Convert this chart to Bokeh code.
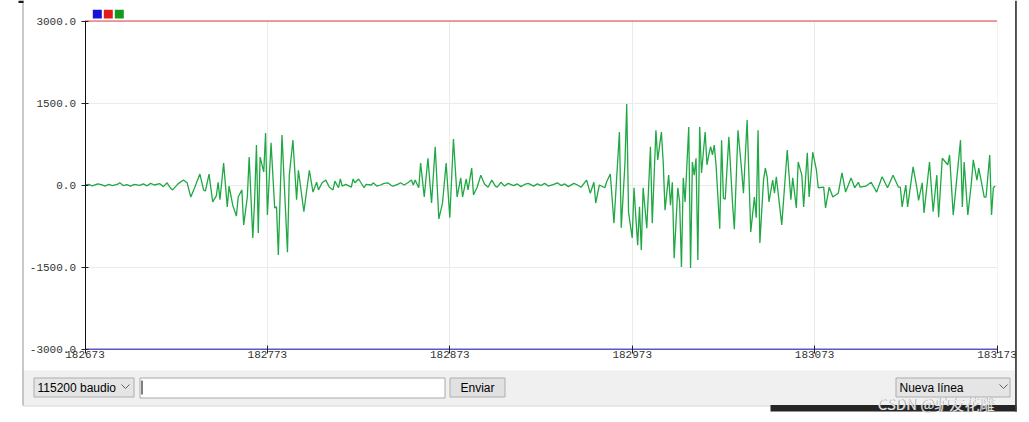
from bokeh.plotting import figure
from bokeh.models import Range1d, FixedTicker, PrintfTickFormatter, LinearAxis, Grid, BoxAnnotation
from bokeh.core.properties import value
from bokeh.embed import file_html
from bokeh.resources import INLINE

# ---------------- data ----------------
x_first = 182673
x_last = 183173
x_ticks = [182673, 182773, 182873, 182973, 183073, 183173]
y_ticks = [-3000, -1500, 0, 1500, 3000]
blue_level = -3000
red_level = 3000

sample_offsets = [
    0, 2, 4, 7, 9, 11, 13, 15, 18, 19, 21, 23,
    25, 27, 30, 32, 34, 36, 38, 41, 43, 45, 47, 48,
    51, 54, 56, 58, 60, 61, 63, 65, 66, 68, 70, 72,
    73, 74, 76, 78, 79, 81, 83, 84, 86, 87, 89, 90,
    92, 93, 94, 95, 96, 98, 99, 100, 102, 104, 105, 106,
    108, 111, 112, 114, 116, 117, 120, 123, 125, 127, 128, 130,
    132, 134, 136, 137, 139, 140, 141, 143, 146, 147, 148, 150,
    153, 154, 157, 158, 160, 162, 164, 166, 168, 169, 172, 173,
    175, 177, 179, 180, 181, 183, 184, 186, 188, 190, 192, 194,
    196, 198, 200, 202, 204, 206, 207, 209, 210, 212, 213, 215,
    217, 219, 221, 223, 225, 226, 228, 230, 232, 235, 237, 239,
    241, 243, 246, 248, 250, 252, 254, 257, 259, 261, 263, 265,
    268, 270, 272, 275, 277, 279, 280, 282, 285, 286, 288, 290,
    293, 294, 296, 297, 298, 300, 301, 302, 303, 304, 305, 306,
    308, 310, 311, 313, 314, 316, 317, 318, 320, 321, 322, 323,
    325, 326, 327, 328, 329, 331, 332, 333, 334, 335, 336, 337,
    338, 340, 341, 342, 343, 344, 345, 346, 348, 349, 350, 351,
    353, 355, 356, 358, 360, 361, 363, 365, 367, 368, 369, 370,
    372, 373, 374, 375, 377, 378, 379, 382, 383, 385, 387, 388,
    390, 391, 393, 394, 396, 397, 399, 401, 402, 405, 406, 408,
    410, 413, 415, 417, 420, 422, 424, 425, 428, 429, 431, 434,
    437, 440, 443, 446, 447, 448, 450, 451, 454, 456, 457, 459,
    460, 463, 465, 467, 468, 470, 473, 474, 476, 480, 481, 482,
    484, 486, 487, 489, 490, 493, 494, 496, 497, 498, 499,
]
signal_values = [
    0, 10, -15, 20, 5, -20, 10, -10, 15, 40, -10, 5,
    -20, 10, -5, 20, -15, 30, 0, 25, -30, 40, -60, -90,
    20, 90, 40, -220, -60, 30, 200, -90, -110, 200, -310, -200,
    50, -270, 400, -400, -20, -370, -570, -220, -90, -730, -220, 510,
    -970, -270, 730, -880, 510, 240, 950, -550, 770, -420, -400, -1280,
    915, -1230, 180, 820, -270, 270, -490, 270, -130, 50, -90, 40,
    90, -40, -90, 70, -50, 110, -20, 10, -40, 110, 40, 110,
    -50, 10, 0, 40, -20, 0, 30, 40, -10, -20, 20, 40,
    0, 40, 90, 0, 90, -50, 400, -220, 490, -330, 700, -620,
    -330, 400, -600, 840, -220, 130, -220, 110, -90, 310, -180, -40,
    180, 20, -40, 90, -20, -40, 50, -20, 30, -10, 20, -30,
    10, 30, -20, 20, -10, 30, -20, 10, 40, -10, 20, -30,
    30, 0, -40, 90, -150, 50, -330, 0, -50, 60, 200, -700,
    970, -780, 370, 1480, -500, -970, -50, -590, -1100, -400, -1190, -50,
    -790, 700, -700, 1000, 460, 970, 420, -460, 180, -370, 50, -1340,
    -50, -310, -1500, 130, -310, 1060, -1520, 420, 180, 490, -1370, 1060,
    220, 970, 370, 550, 700, 550, 730, 350, -800, 820, -240, -260,
    880, -330, -810, 1000, 270, -150, 1190, -860, -220, -600, 1000, -1060,
    90, 310, 150, -310, 90, -150, 150, -730, -270, 640, -270, 130,
    -420, 420, 180, -400, 590, -220, 600, 270, -50, -40, -420, -40,
    -220, -150, 220, -130, 130, -50, 50, -40, -20, 0, 50, -130,
    150, -50, 180, -40, -40, -400, 0, -400, 330, -40, -280, 40,
    -510, 420, -490, 180, -590, 490, 370, 550, -550, 820, -400, 420,
    -550, 50, 460, 90, 310, -220, -220, 550, -550, -50, -20,
]

series_colors = ["#1414d8", "#e01c1c", "#139a1c"]   # legend squares: blue, red, green
baud_label = "115200 baudio"
send_label = "Enviar"
newline_label = "Nueva línea"
watermark = "CSDN @驴友花雕"

# ---------------- layout ----------------
M = 0                      # the page is shown from its top-left corner
W, H = 1029, 422
PX_L, PX_R, PX_T, PX_B = 84.5, 996.5, 20.5, 348.5   # plot area on the page (pixel centres)
y_min, y_max = y_ticks[0], y_ticks[-1]
kx = (x_last - x_first) / (PX_R - PX_L)
ky = (y_max - y_min) / (PX_B - PX_T)
xr = Range1d(x_first - (PX_L - M) * kx, x_last + (M + W - PX_R) * kx)
yr = Range1d(y_min - (M + H - PX_B) * ky, y_max + (PX_T - M) * ky)

p = figure(width=W, height=H, x_range=xr, y_range=yr, x_axis_type=None, y_axis_type=None,
           output_backend="svg", toolbar_location=None, tools="", min_border=0)
p.min_border_left = p.min_border_right = p.min_border_top = p.min_border_bottom = 0
p.outline_line_color = None
p.background_fill_color = "white"
p.border_fill_color = "white"
p.extra_x_ranges = {"px": Range1d(M, M + W)}
p.extra_y_ranges = {"px": Range1d(M + H, M)}
PX = dict(x_range_name="px", y_range_name="px")

GRID = "#ebebeb"
p.add_layout(Grid(dimension=0, ticker=FixedTicker(ticks=x_ticks), grid_line_color=GRID))
p.add_layout(Grid(dimension=1, ticker=FixedTicker(ticks=y_ticks), grid_line_color=GRID))

# white masks that keep grid lines inside the plot area
p.quad(left=[M, M, M, PX_R + 0.6], right=[M + W, M + W, PX_L - 0.6, M + W],
       top=[M, PX_B + 0.9, M, M], bottom=[PX_T - 0.9, M + H, M + H, M + H],
       fill_color="white", line_color=None, **PX)

# window frame / serial monitor bottom bar
p.quad(left=[22.5], right=[1015], top=[370], bottom=[405], fill_color="#f0f0f0", line_color=None, **PX)
p.segment(x0=[22.5], y0=[405.5], x1=[1015], y1=[405.5], line_color="#d4d4d4", line_width=1, **PX)
p.segment(x0=[22.5], y0=[0], x1=[22.5], y1=[405], line_color="#a6a6a6", line_width=1.2, **PX)
p.quad(left=[18], right=[23], top=[0], bottom=[2.5], fill_color="#1a1a1a", line_color=None, **PX)

# combo, input, button, combo
p.quad(left=[33.5, 449.5, 895.5], right=[133.5, 504.5, 1009.5], top=[377.5, 377.5, 377.5],
       bottom=[396.5, 396.5, 396.5], fill_color=["#e5e5e5", "#e1e1e1", "#e5e5e5"],
       line_color="#adadad", line_width=1, **PX)
p.quad(left=[139.5], right=[444.5], top=[377.5], bottom=[397.5], fill_color="white",
       line_color="#a8a8a8", line_width=1, **PX)
p.segment(x0=[141.5], y0=[380], x1=[141.5], y1=[394], line_color="black", line_width=1, **PX)
p.multi_line(xs=[[121, 125, 129], [999, 1003, 1007]], ys=[[384, 388, 384], [384, 388, 384]],
             line_color="#606060", line_width=1, **PX)
ui_font = value("Liberation Sans")
p.text(x=[37], y=[387], text=[baud_label], text_font=ui_font, text_font_size="12px",
       text_color="black", text_baseline="middle", text_align="left", **PX)
p.text(x=[477], y=[387], text=[send_label], text_font=ui_font, text_font_size="12px",
       text_color="black", text_baseline="middle", text_align="center", **PX)
p.text(x=[899], y=[387], text=[newline_label], text_font=ui_font, text_font_size="12px",
       text_color="black", text_baseline="middle", text_align="left", **PX)

# dark strip + watermark
p.quad(left=[770], right=[1017], top=[404.5], bottom=[411], fill_color="#252525", line_color=None, **PX)
wm_font = value("Noto Sans CJK SC")
p.text(x=[877.8], y=[403.2], text=[watermark], text_font=wm_font, text_font_size="15px",
       text_color="#8a8a8a", text_alpha=0.8, text_baseline="middle", text_align="left", **PX)
p.text(x=[877], y=[402.5], text=[watermark], text_font=wm_font, text_font_size="15px",
       text_color="#f4f4f4", text_alpha=0.9, text_baseline="middle", text_align="left", **PX)

# legend squares (blue, red, green)
p.quad(left=[92.3, 103.3, 114.3], right=[101.3, 112.3, 123.3], top=[9.3] * 3, bottom=[17.9] * 3,
       fill_color=series_colors, line_color=None, **PX)

# ---------------- series ----------------
xs = [x_first + o for o in sample_offsets]
p.line(x=xs, y=signal_values, line_color="#1fa843", line_width=1.3)
p.line(x=[x_first, x_last], y=[red_level, red_level], line_color="#e04040", line_width=1)
p.line(x=[x_first, x_last], y=[blue_level, blue_level], line_color="#5858c8", line_width=1)

# ---------------- axes ----------------
xaxis = LinearAxis(fixed_location=y_min, bounds=(x_first, x_last),
                   ticker=FixedTicker(ticks=x_ticks), formatter=PrintfTickFormatter(format="%d"))
xaxis.axis_line_color = "#5858c8"
xaxis.axis_line_width = 1
xaxis.major_tick_line_color = "#222222"
xaxis.major_tick_in = 4
xaxis.major_tick_out = 4
xaxis.minor_tick_line_color = None
xaxis.major_label_standoff = -2
xaxis.major_label_text_font = "Liberation Mono"
xaxis.major_label_text_font_size = "11px"
xaxis.major_label_text_color = "#333333"
p.add_layout(xaxis, "below")

yaxis = LinearAxis(fixed_location=x_first, bounds=(y_min, y_max),
                   ticker=FixedTicker(ticks=y_ticks), formatter=PrintfTickFormatter(format="%.1f"))
yaxis.axis_line_color = "#111111"
yaxis.major_tick_line_color = "#222222"
yaxis.major_tick_in = 3
yaxis.major_tick_out = 4
yaxis.minor_tick_line_color = None
yaxis.major_label_standoff = 5
yaxis.major_label_text_font = "Liberation Mono"
yaxis.major_label_text_font_size = "11px"
yaxis.major_label_text_color = "#333333"
p.add_layout(yaxis, "left")

# right window edge, drawn above the axis labels
p.add_layout(BoxAnnotation(left=1014.6, right=1016.4, top=M, bottom=411, fill_color="#3a3a3a",
                           fill_alpha=1, line_color=None, **PX))
p.add_layout(BoxAnnotation(left=1016.4, right=M + W, top=M, bottom=M + H, fill_color="white",
                           fill_alpha=1, line_color=None, **PX))

open("out.html", "w").write(file_html(p, INLINE))
